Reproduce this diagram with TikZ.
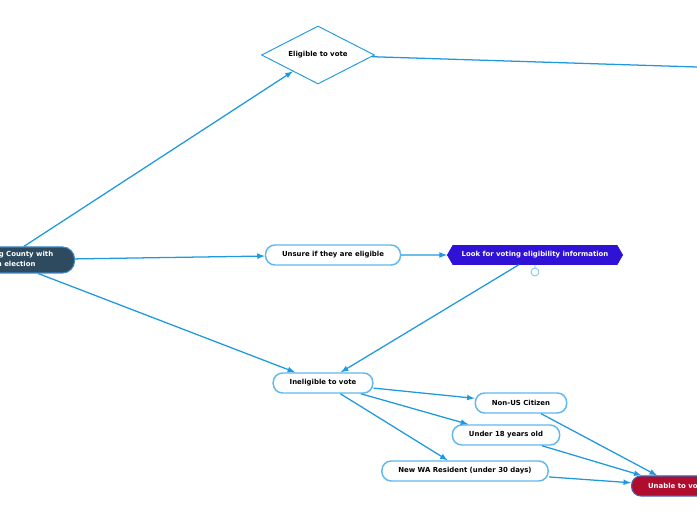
\documentclass[tikz,border=0pt]{standalone}
\usepackage{fontspec}
\setmainfont{DejaVu Sans}
\usepackage{xcolor}
\usetikzlibrary{shapes.geometric,shapes.symbols}

\definecolor{linkblue}{HTML}{1E98DF}
\definecolor{topicline}{HTML}{62B8EE}
\definecolor{kingfill}{HTML}{2E4A5E}
\definecolor{kingline}{HTML}{3A88C8}
\definecolor{lookfill}{HTML}{3011D6}
\definecolor{unablefill}{HTML}{B00D2E}
\definecolor{unableline}{HTML}{4A5FA8}

\begin{document}
\begin{tikzpicture}[>=latex, x=0.75pt, y=-0.75pt,
  every node/.style={font=\fontsize{5.2}{7.5}\selectfont\bfseries},
  topic/.style={draw=topicline, line width=1.1pt, fill=white, rounded corners=7pt,
    minimum height=15pt, inner xsep=12.4pt, inner ysep=0pt},
  link/.style={->, linkblue, line width=0.95pt}]
\useasboundingbox (0,0) rectangle (697,520);
\clip (0,0) rectangle (697,520);

\node [topic, fill=kingfill, draw=kingline, line width=0.8pt, text=white, align=center,
  rounded corners=9pt, minimum height=19.5pt, inner xsep=16pt] (king) at (3,260) {Voter in King County with\\an open election};

\node [diamond, aspect=2, draw=linkblue, line width=0.7pt, fill=white, inner sep=0pt,
  minimum width=84.75pt, minimum height=43.5pt] (eligible) at (318,55) {Eligible to vote};
\coordinate (offright) at (760,69);

\node [topic] (unsure) at (333,255) {Unsure if they are eligible};
\node [signal, signal to=west and east, signal pointer angle=120, fill=lookfill, draw=lookfill,
  text=white, minimum height=14.25pt, inner xsep=6.6pt, inner ysep=0pt] (lookup) at (535,255) {Look for voting eligibility information};
\node [circle, draw=topicline, line width=0.5pt, fill=white, minimum size=6pt, inner sep=0pt] (fold) at (535,272) {};

\node [topic] (inelig) at (323,383) {Ineligible to vote};
\node [topic] (nonus) at (521,403) {Non-US Citizen};
\node [topic] (under) at (506,435) {Under 18 years old};
\node [topic] (newwa) at (465,471) {New WA Resident (under 30 days)};
\node [topic, fill=unablefill, draw=unableline, line width=0.8pt, text=white, anchor=west] (unable) at (631,486) {Unable to vote};

\draw [link] (king) -- (eligible);
\draw [linkblue, line width=0.95pt] (eligible) -- (offright);
\draw [link] (king) -- (unsure);
\draw [link] (king) -- (inelig);
\draw [link] (unsure) -- (lookup);
\draw [topicline, line width=0.5pt] (lookup) -- (fold);
\draw [link] (lookup) -- (inelig);
\draw [link] (inelig) -- (nonus);
\draw [link] (inelig) -- (under);
\draw [link] (inelig) -- (newwa);
\draw [link] (nonus) -- (unable);
\draw [link] (under) -- (unable);
\draw [link] (newwa) -- (unable);
\end{tikzpicture}
\end{document}
